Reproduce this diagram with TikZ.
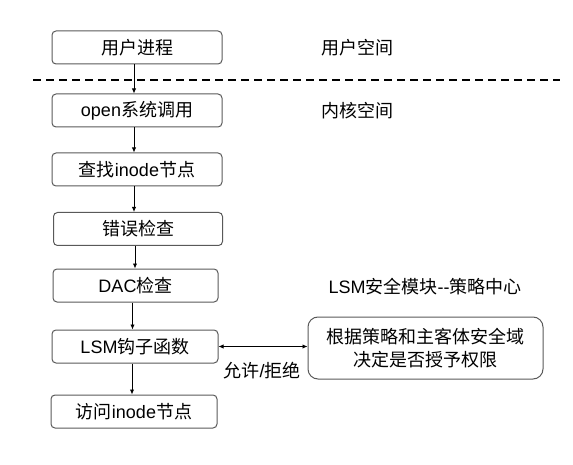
\documentclass[tikz,border=0pt]{standalone}
\usepackage{fontspec}
\setmainfont{Liberation Sans}
\newfontfamily\cjk{Noto Sans CJK SC}
\usetikzlibrary{arrows.meta}
\newcommand{\zh}[1]{{\cjk #1}}
\begin{document}
\begin{tikzpicture}[x=1pt,y=-1pt,
  boxn/.style={draw=black!65,line width=1pt,rounded corners=4pt,minimum height=33pt,inner sep=0pt,font=\fontsize{18}{21}\selectfont,anchor=center},
  conn/.style={line width=0.9pt,-{Latex[length=5pt,width=4.5pt]}},
  lbl/.style={font=\fontsize{18}{21}\selectfont,inner sep=0pt}]
\useasboundingbox (0,0) rectangle (573,465);
\node[boxn,minimum width=170pt] (b1) at (137,47.5) {\zh{用户进程}};
\node[boxn,minimum width=170pt] (b2) at (137,110.5) {open\zh{系统调用}};
\node[boxn,minimum width=170pt] (b3) at (137,169.5) {\zh{查找}inode\zh{节点}};
\node[boxn,minimum width=169pt] (b4) at (138,229) {\zh{错误检查}};
\node[boxn,minimum width=165pt] (b5) at (135.5,285.5) {DAC\zh{检查}};
\node[boxn,minimum width=166pt] (b6) at (135,346.5) {LSM\zh{钩子函数}};
\node[boxn,minimum width=166pt] (b7) at (134,411.5) {\zh{访问}inode\zh{节点}};
\node[draw=black!65,line width=1pt,rounded corners=10pt,minimum width=235pt,minimum height=62pt,inner sep=0pt,align=center,font=\fontsize{18}{23}\selectfont] (r) at (425.5,348) {\zh{根据策略和主客体安全域}\\\zh{决定是否授予权限}};
\node[lbl] (t1) at (357,48) {\zh{用户空间}};
\node[lbl] (t2) at (357,111) {\zh{内核空间}};
\node[lbl] (t3) at (425,287) {LSM\zh{安全模块}-{}-\zh{策略中心}};
\node[lbl] (t4) at (262,371) {\zh{允许}/\zh{拒绝}};
\coordinate (dl) at (33,80);
\coordinate (dr) at (560,80);
\draw[line width=2pt,dash pattern=on 8pt off 5pt] (dl) -- (dr);
\foreach \a/\b in {b1/b2,b2/b3,b3/b4,b4/b5,b5/b6,b6/b7}{
  \draw[conn] ([xshift=-3pt]\a.south) -- ([xshift=-3pt]\a.south |- \b.north);
}
\draw[line width=0.9pt,{Latex[length=5pt,width=4.5pt]}-{Latex[length=5pt,width=4.5pt]}] (b6.east) -- (b6.east -| r.west);
\end{tikzpicture}
\end{document}
